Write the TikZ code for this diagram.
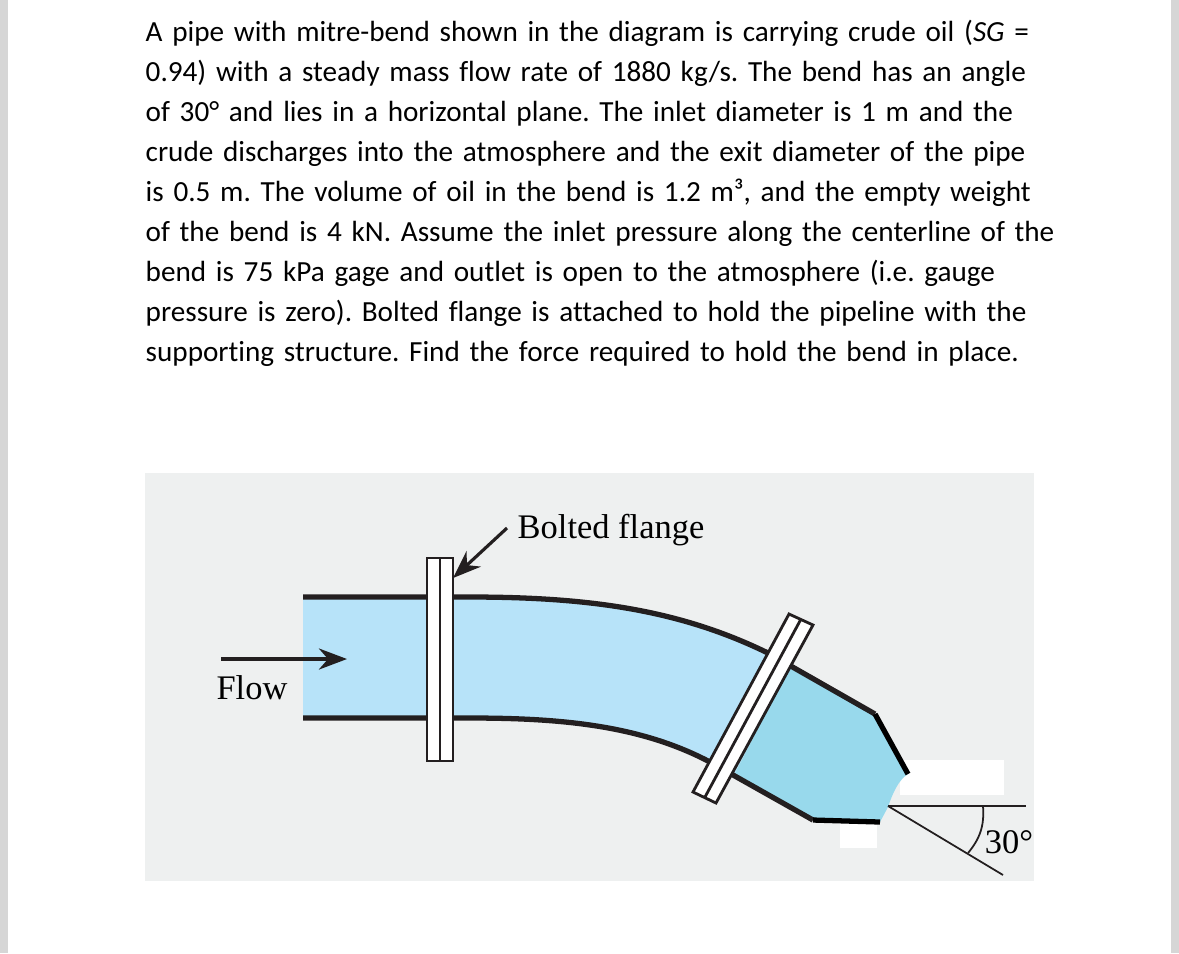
\documentclass[tikz,border=0pt]{standalone}
\usepackage{fontspec}
\setmainfont{Carlito}[WordSpace={0.6,1.5,2}, Ligatures=NoCommon]
\newfontfamily\figfont{Liberation Serif}
\definecolor{panelgray}{HTML}{EEF0F0}
\definecolor{sidegray}{HTML}{D6D6D6}
\definecolor{oillight}{HTML}{B7E3F9}
\definecolor{oildark}{HTML}{98D9EC}
\definecolor{inkdark}{HTML}{231F20}
\usetikzlibrary{arrows.meta}
\newcommand{\textrow}[1]{\hbox to 8.88cm{#1}\par}
\tikzset{
    pipewall/.style={draw=inkdark, line width=1.5pt},
    flangeplate/.style={draw=inkdark, fill=white, line width=0.8pt},
    thinline/.style={draw=inkdark, line width=0.5pt},
    figlabel/.style={font=\figfont\fontsize{9.8}{11}\selectfont, text=black, inner sep=0pt},
    pointer/.style={draw=inkdark, line width=0.9pt, -{Stealth[length=8pt, width=6pt]}}
}
\begin{document}
\begin{tikzpicture}[x=0.01cm, y=-0.01cm]
    \useasboundingbox (0,0) rectangle (1179,953);
    \fill[white] (0,0) rectangle (1179,953);
    \fill[sidegray] (0,0) rectangle (8,953);
    \fill[sidegray] (1171,0) rectangle (1179,953);

    % problem text
    \node[anchor=north west, inner sep=0pt, text width=8.89cm, align=left,
          font=\frenchspacing\fontsize{8.3}{11.38}\selectfont] (problem) at (145,19) {\textrow{A pipe with mitre-bend shown in the diagram is carrying crude oil (\textit{SG} =}
    \textrow{0.94) with a steady mass flow rate of 1880 kg/s. The bend has an angle}
    \textrow{of 30° and lies in a horizontal plane. The inlet diameter is 1 m and the}
    \textrow{crude discharges into the atmosphere and the exit diameter of the pipe}
    \textrow{is 0.5 m. The volume of oil in the bend is 1.2 m³, and the empty weight}
    \textrow{of the bend is 4 kN. Assume the inlet pressure along the centerline of the}
    \textrow{bend is 75 kPa gage and outlet is open to the atmosphere (i.e. gauge}
    \textrow{pressure is zero). Bolted flange is attached to hold the pipeline with the}
    \hbox{supporting structure. Find the force required to hold the bend in place.}};

    % figure panel
    \fill[panelgray] (145,473) rectangle (1034,881);

    % white patches
    \fill[white] (900,760) rectangle (1004,795);
    \fill[white] (840,817) rectangle (877,848);

    % oil
    \fill[oillight] (303,597) -- (470,597) .. controls (590,597) and (680,610) .. (768,653)
        -- (790,667) -- (735,773) -- (710,762) .. controls (640,725) and (560,718) .. (470,718)
        -- (303,718) -- cycle;
    \fill[oildark] (790,667) -- (875,714) -- (908,774) .. controls (898,780) and (892,795) .. (888,807)
        -- (880,822) -- (813,820) -- (735,773) -- cycle;

    % pipe walls
    \draw[pipewall] (303,597) -- (470,597) .. controls (590,597) and (680,610) .. (768,653) -- (875,714);
    \draw[pipewall] (303,718) -- (470,718) .. controls (560,718) and (640,725) .. (710,762) -- (813,820);
    \draw[pipewall, draw=black] (875,714) -- (908,774);
    \draw[pipewall, draw=black] (813,820) -- (880,822);

    % flanges
    \draw[flangeplate] (427,558) rectangle (453,761);
    \draw[flangeplate] (440,558) -- (440,761);
    \draw[flangeplate] (789,614) -- (813,625) -- (716,803) -- (693,792) -- cycle;
    \draw[flangeplate] (801,619) -- (705,797);

    % angle
    \coordinate (apex) at (888,806);
    \coordinate (horizend) at (1026,806);
    \coordinate (slantend) at (1003,875);
    \draw[thinline] (apex) -- (horizend);
    \draw[thinline] (apex) -- (slantend);
    \draw[thinline] (983,806) to[bend left=22] (968,853);
    \node[figlabel] (anglelabel) at (1009,842) {30°};

    % labels and arrows
    \node[figlabel, anchor=west] (boltedlabel) at (517,530) {Bolted flange};
    \coordinate (leaderstart) at (507,528);
    \coordinate (leaderend) at (453,578);
    \draw[pointer] (leaderstart) -- (leaderend);

    \node[figlabel] (flowlabel) at (252,688) {Flow};
    \coordinate (flowstart) at (221,659);
    \coordinate (flowend) at (347,659);
    \draw[pointer] (flowstart) -- (flowend);
\end{tikzpicture}
\end{document}
